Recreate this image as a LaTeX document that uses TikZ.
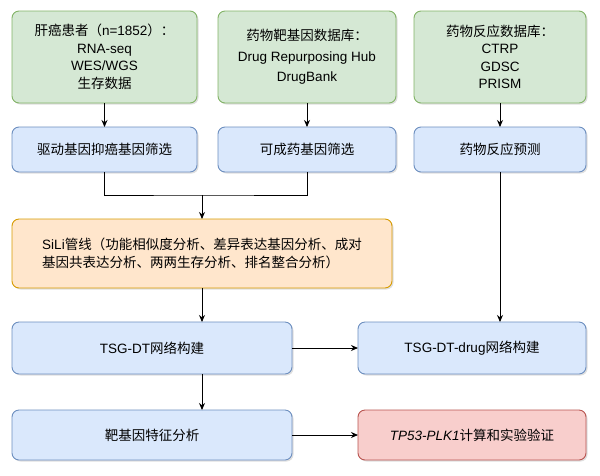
\documentclass[tikz,border=0pt]{standalone}
\usepackage{fontspec}
\setmainfont{Noto Sans CJK SC}
\newfontfamily\lat{Liberation Sans}
\usetikzlibrary{arrows.meta,shadows}
\definecolor{gf}{HTML}{D5E8D4}\definecolor{gd}{HTML}{82B366}
\definecolor{bf}{HTML}{DAE8FC}\definecolor{bd}{HTML}{6C8EBF}
\definecolor{of}{HTML}{FFE6CC}\definecolor{od}{HTML}{D79B00}
\definecolor{rf}{HTML}{F8CECC}\definecolor{rd}{HTML}{B85450}
\begin{document}
\begin{tikzpicture}[x=1pt,y=-1pt,font=\fontsize{13.5}{17.5}\selectfont,
 box/.style={rounded corners=7pt,line width=0.9pt,drop shadow={shadow xshift=1.5pt,shadow yshift=-1.5pt,opacity=0.25}},
 g/.style={box,fill=gf,draw=gd},b/.style={box,fill=bf,draw=bd},o/.style={box,fill=of,draw=od},r/.style={box,fill=rf,draw=rd},
 ar/.style={-{Stealth[length=7pt,width=6pt]},line width=0.9pt}]
\useasboundingbox (0,0) rectangle (600,475);
\draw[g] (12,11) rectangle (197,103); \node[align=center] (g1) at (104.5,57) {肝癌患者（{\lat n=1852}）：\\{\lat RNA-seq}\\{\lat WES/WGS}\\生存数据};
\draw[g] (218,11) rectangle (396,103); \node[align=center] (g2) at (307,57) {药物靶基因数据库：\\[3pt]{\lat Drug Repurposing Hub}\\[3pt]{\lat DrugBank}};
\draw[g] (414,11) rectangle (586,103); \node[align=center] (g3) at (500,57) {药物反应数据库：\\{\lat CTRP}\\{\lat GDSC}\\{\lat PRISM}};
\draw[b] (12,127) rectangle (197,172); \node (b1) at (104.5,149.5) {驱动基因抑癌基因筛选};
\draw[b] (218,127) rectangle (396,172); \node (b2) at (307,149.5) {可成药基因筛选};
\draw[b] (414,127) rectangle (586,172); \node (b3) at (500,149.5) {药物反应预测};
\draw[o] (12,219) rectangle (392,288); \node[align=left] (o1) at (202,253.5) {{\lat SiLi}管线（功能相似度分析、差异表达基因分析、成对\\基因共表达分析、两两生存分析、排名整合分析）};
\draw[b] (12,322) rectangle (292,374); \node (t1) at (152,348) {{\lat TSG-DT}网络构建};
\draw[b] (358,322) rectangle (586,374); \node (t2) at (472,348) {{\lat TSG-DT-drug}网络构建};
\draw[b] (12,410) rectangle (292,460); \node (f1) at (152,435) {靶基因特征分析};
\draw[r] (358,410) rectangle (586,460); \node (f2) at (472,435) {{\lat\itshape TP53-PLK1}计算和实验验证};
\coordinate (j) at (202,195);
\draw[ar] (104.5,103) -- (104.5,127);
\draw[ar] (307,103) -- (307,127);
\draw[ar] (500,103) -- (500,127);
\draw[line width=0.9pt] (104.5,172) |- (j) -| (307,172);
\draw[ar] (j) -- (202,219);
\draw[ar] (202,288) -- (202,322);
\draw[ar] (202,374) -- (202,410);
\draw[ar] (500,172) -- (500,322);
\draw[ar] (292,348) -- (358,348);
\draw[ar] (292,435) -- (358,435);
\end{tikzpicture}
\end{document}
